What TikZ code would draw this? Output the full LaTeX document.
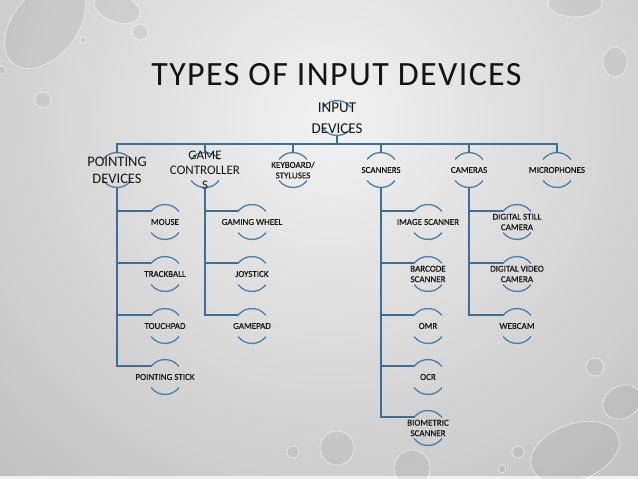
\documentclass[tikz,border=0pt]{standalone}
\usepackage{fontspec}
\setmainfont{Carlito}
\definecolor{lineblue}{RGB}{62,110,150}
\definecolor{arcblue}{RGB}{74,126,168}
\definecolor{txt}{RGB}{22,22,22}
\newcommand\ionode[5]{%
  \node[ring] (#1) at (#2,-#3) {};
  \draw[arcline] (#1.37) arc[start angle=37,end angle=143,radius=17.5pt];
  \draw[arcline] (#1.217) arc[start angle=217,end angle=323,radius=17.5pt];
  \node[#4] (#1-t) at (#2,-#3) {#5};}
\begin{document}
\begin{tikzpicture}[x=1pt,y=1pt,
  conn/.style={draw=lineblue,line width=2pt},
  arcline/.style={draw=arcblue,line width=1.3pt},
  ring/.style={circle,minimum size=35pt,inner sep=0pt,outer sep=0pt},
  small/.style={font=\addfontfeature{FakeBold=0.4}\fontsize{9}{10.5}\selectfont,align=center,inner sep=0pt,text=txt},
  mid/.style={font=\fontsize{13}{15}\selectfont,align=center,inner sep=0pt,text=txt},
  big/.style={font=\fontsize{14.5}{17}\selectfont,align=center,inner sep=0pt,text=txt},
  rootst/.style={font=\fontsize{15}{21}\selectfont,align=center,inner sep=0pt,text=txt},
  drop/.style={fill=black!50,fill opacity=0.13,draw=white,draw opacity=0.6,line width=0.7pt}]
% background
\useasboundingbox (0,0) rectangle (638,-479);
\begin{scope}
\clip (0,0) rectangle (638,-479);
\shade[inner color=black!5,outer color=black!34] (330,-120) circle (720pt);
\fill[black!6] (0,-476) rectangle (638,-479);
% droplets
\draw[drop] (45,-25) ellipse[x radius=50pt,y radius=32pt,rotate=50];
\draw[drop] (117,-8) ellipse[x radius=24pt,y radius=14pt,rotate=-20];
\draw[drop] (140,-32) circle (8pt);
\draw[drop] (83,-40) circle (3pt);
\draw[drop] (2,-70) circle (4pt);
\draw[drop] (575,-3) ellipse[x radius=27pt,y radius=14pt];
\draw[drop] (615,-62) ellipse[x radius=12pt,y radius=15pt];
\draw[drop] (43,-100) circle (8pt);
\draw[drop] (595,-367) circle (9pt);
\draw[drop] (622,-402) ellipse[x radius=20pt,y radius=16pt,rotate=30];
\draw[drop] (575,-452) ellipse[x radius=46pt,y radius=28pt,rotate=20];
\draw[drop] (518,-452) circle (6pt);
\draw[drop] (502,-469) circle (4pt);
\draw[drop] (293,-452) circle (6pt);
\draw[drop] (337,-448) circle (17pt);
\draw[drop] (412,-468) circle (18pt);
\end{scope}
% title
\node[font=\addfontfeature{LetterSpace=4}\fontsize{34}{40}\selectfont,text=black!92,anchor=base,inner sep=0pt] (title) at (336.5,-85) {TYPES OF INPUT DEVICES};
% nodes
\ionode{root}{337}{118}{rootst}{INPUT\\DEVICES}
\ionode{pd}{117}{170}{big}{POINTING\\DEVICES}
\ionode{gc}{205}{170}{mid}{GAME\\CONTROLLER\\S}
\ionode{kb}{293}{170}{small}{KEYBOARD/\\STYLUSES}
\ionode{sc}{381}{170}{small}{SCANNERS}
\ionode{cam}{469}{170}{small}{CAMERAS}
\ionode{mic}{557}{170}{small}{MICROPHONES}
\ionode{mouse}{165}{222}{small}{MOUSE}
\ionode{track}{165}{274}{small}{TRACKBALL}
\ionode{touch}{165}{326}{small}{TOUCHPAD}
\ionode{pstick}{165}{377}{small}{POINTING STICK}
\ionode{wheel}{252}{222}{small}{GAMING WHEEL}
\ionode{joy}{252}{274}{small}{JOYSTICK}
\ionode{gpad}{252}{326}{small}{GAMEPAD}
\ionode{img}{428}{222}{small}{IMAGE SCANNER}
\ionode{bar}{428}{274}{small}{BARCODE\\SCANNER}
\ionode{omr}{428}{326}{small}{OMR}
\ionode{ocr}{428}{377}{small}{OCR}
\ionode{bio}{428}{428}{small}{BIOMETRIC\\SCANNER}
\ionode{dsc}{517}{222}{small}{DIGITAL STILL\\CAMERA}
\ionode{dvc}{517}{274}{small}{DIGITAL VIDEO\\CAMERA}
\ionode{web}{517}{326}{small}{WEBCAM}
% connectors
\coordinate (bus) at (0,-144);
\draw[conn] (root.south) -- (root.south |- bus);
\draw[conn,line cap=rect] (pd.north |- bus) -- (mic.north |- bus);
\foreach \n in {pd,gc,kb,sc,cam,mic}{\draw[conn] (\n.north |- bus) -- (\n.north);}
\foreach \n in {mouse,track,touch,pstick}{\draw[conn] (pd.south) |- (\n.143);}
\foreach \n in {wheel,joy,gpad}{\draw[conn] (gc.south) |- (\n.143);}
\foreach \n in {img,bar,omr,ocr,bio}{\draw[conn] (sc.south) |- (\n.143);}
\foreach \n in {dsc,dvc,web}{\draw[conn] (cam.south) |- (\n.143);}
\end{tikzpicture}
\end{document}
